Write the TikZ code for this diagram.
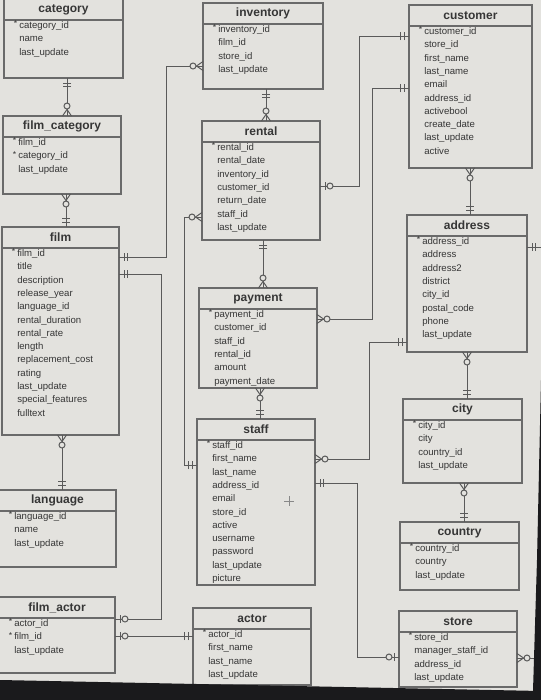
\documentclass[tikz,border=0pt]{standalone}
\usepackage{fontspec}
\setmainfont{Liberation Sans}
\usetikzlibrary{calc}

\definecolor{bg}{HTML}{E3E2DE}
\definecolor{boxline}{HTML}{6A6A6A}
\definecolor{ink}{HTML}{363636}
\definecolor{wire}{HTML}{5A5A5A}
\definecolor{bezel}{HTML}{1A1A1C}

\tikzset{
  entbox/.style={draw=boxline, line width=0.95pt, anchor=north west, inner sep=0pt, outer sep=0pt},
  enttitle/.style={inner sep=0pt, text=ink, font=\bfseries\fontsize{9}{10}\selectfont},
  entattr/.style={inner sep=0pt, anchor=base west, text=ink, font=\fontsize{7.2}{9}\selectfont},
  rel/.style={draw=wire, line width=0.75pt},
  mone/.pic={\draw[rel] (5,-4) -- (5,4) (8.5,-4) -- (8.5,4);},
  zmany/.pic={\draw[rel] (0,-4.5) -- (6.5,0) -- (0,4.5);
    \draw[rel, fill=bg] (10,0) circle[radius=3];},
  zone/.pic={\draw[rel] (5,-4) -- (5,4);
    \draw[rel, fill=bg] (10,0) circle[radius=3];}
}

% primary key marker
\newcommand{\pk}[1]{\llap{\raisebox{0.35ex}{\fontsize{6.5}{6.5}\selectfont *}\hspace{1.6pt}}#1}
% entity: name, x, y, width, height, title, attributes
\newcommand{\entity}[7]{%
  \node[entbox, minimum width=#4*0.75pt, minimum height=#5*0.75pt] (#1) at (#2,#3) {};
  \draw[boxline, line width=0.95pt] ($(#1.north west)+(0,21)$) -- ($(#1.north east)+(0,21)$);
  \node[enttitle] (#1-t) at ($(#1.north west)!0.5!(#1.north east)+(0,10.5)$) {#6};
  \foreach \attr [count=\row] in {#7}
    \node[entattr] (#1-\row) at ($(#1.north west)+(15,{29.5+(\row-1)*13.3})$) {\attr};
}

\begin{document}
\begin{tikzpicture}[x=0.75pt, y=-0.75pt]
\useasboundingbox (0,0) rectangle (541,700);
\fill[bg] (0,0) rectangle (541,700);

% left column
\entity{category}{4}{-1}{119}{79}{category}{\pk{category\_id},name,last\_update}
\entity{fcat}{3}{116}{118}{78}{film\_category}{\pk{film\_id},\pk{category\_id},last\_update}
\entity{film}{2}{227}{117}{208}{film}{\pk{film\_id},title,description,release\_year,language\_id,rental\_duration,rental\_rate,length,replacement\_cost,rating,last\_update,special\_features,fulltext}
\entity{language}{-1}{490}{117}{77}{language}{\pk{language\_id},name,last\_update}
\entity{factor}{-1}{597}{116}{76}{film\_actor}{\pk{actor\_id},\pk{film\_id},last\_update}

% middle column
\entity{inventory}{203}{3}{120}{86}{inventory}{\pk{inventory\_id},film\_id,store\_id,last\_update}
\entity{rental}{202}{121}{118}{119}{rental}{\pk{rental\_id},rental\_date,inventory\_id,customer\_id,return\_date,staff\_id,last\_update}
\entity{payment}{199}{288}{118}{100}{payment}{\pk{payment\_id},customer\_id,staff\_id,rental\_id,amount,payment\_date}
\entity{staff}{197}{419}{118}{166}{staff}{\pk{staff\_id},first\_name,last\_name,address\_id,email,store\_id,active,username,password,last\_update,picture}
\entity{actor}{193}{608}{118}{77}{actor}{\pk{actor\_id},first\_name,last\_name,last\_update}

% right column
\entity{customer}{409}{5}{123}{163}{customer}{\pk{customer\_id},store\_id,first\_name,last\_name,email,address\_id,activebool,create\_date,last\_update,active}
\entity{address}{407}{215}{120}{137}{address}{\pk{address\_id},address,address2,district,city\_id,postal\_code,phone,last\_update}
\entity{city}{403}{399}{119}{84}{city}{\pk{city\_id},city,country\_id,last\_update}
\entity{country}{400}{522}{119}{68}{country}{\pk{country\_id},country,last\_update}
\entity{store}{399}{611}{118}{76}{store}{\pk{store\_id},manager\_staff\_id,address\_id,last\_update}

% cursor
\draw[boxline!80, line width=0.4pt] (284,501) -- (294,501) (289,496) -- (289,506);

% vertical links
\draw[rel] (category.south -| 67,0) -- (fcat.north -| 67,0);
\pic[rotate=-90] at (category.south -| 67,0) {mone};
\pic[rotate=90] at (fcat.north -| 67,0) {zmany};
\draw[rel] (fcat.south -| 66,0) -- (film.north -| 66,0);
\pic[rotate=-90] at (fcat.south -| 66,0) {zmany};
\pic[rotate=90] at (film.north -| 66,0) {mone};
\draw[rel] (film.south -| 62,0) -- (language.north -| 62,0);
\pic[rotate=-90] at (film.south -| 62,0) {zmany};
\pic[rotate=90] at (language.north -| 62,0) {mone};
\draw[rel] (inventory.south -| 266,0) -- (rental.north -| 266,0);
\pic[rotate=-90] at (inventory.south -| 266,0) {mone};
\pic[rotate=90] at (rental.north -| 266,0) {zmany};
\draw[rel] (rental.south -| 263,0) -- (payment.north -| 263,0);
\pic[rotate=-90] at (rental.south -| 263,0) {mone};
\pic[rotate=90] at (payment.north -| 263,0) {zmany};
\draw[rel] (payment.south -| 260,0) -- (staff.north -| 260,0);
\pic[rotate=-90] at (payment.south -| 260,0) {zmany};
\pic[rotate=90] at (staff.north -| 260,0) {mone};
\draw[rel] (customer.south -| 470,0) -- (address.north -| 470,0);
\pic[rotate=-90] at (customer.south -| 470,0) {zmany};
\pic[rotate=90] at (address.north -| 470,0) {mone};
\draw[rel] (address.south -| 467,0) -- (city.north -| 467,0);
\pic[rotate=-90] at (address.south -| 467,0) {zmany};
\pic[rotate=90] at (city.north -| 467,0) {mone};
\draw[rel] (city.south -| 464,0) -- (country.north -| 464,0);
\pic[rotate=-90] at (city.south -| 464,0) {zmany};
\pic[rotate=90] at (country.north -| 464,0) {mone};

% bent links
\draw[rel] (film.east |- 0,257) -| (166,66) -- (inventory.west |- 0,66);
\pic at (film.east |- 0,257) {mone};
\pic[rotate=180] at (inventory.west |- 0,66) {zmany};
\draw[rel] (film.east |- 0,274) -| (161,619) -- (factor.east |- 0,619);
\pic at (film.east |- 0,274) {mone};
\pic at (factor.east |- 0,619) {zone};
\draw[rel] (factor.east |- 0,636) -- (actor.west |- 0,636);
\pic at (factor.east |- 0,636) {zone};
\pic[rotate=180] at (actor.west |- 0,636) {mone};
\draw[rel] (rental.west |- 0,217) -| (184,465) -- (staff.west |- 0,465);
\pic[rotate=180] at (rental.west |- 0,217) {zmany};
\pic[rotate=180] at (staff.west |- 0,465) {mone};
\draw[rel] (rental.east |- 0,186) -| (359,36) -- (customer.west |- 0,36);
\pic at (rental.east |- 0,186) {zone};
\pic[rotate=180] at (customer.west |- 0,36) {mone};
\draw[rel] (payment.east |- 0,319) -| (372,88) -- (customer.west |- 0,88);
\pic at (payment.east |- 0,319) {zmany};
\pic[rotate=180] at (customer.west |- 0,88) {mone};
\draw[rel] (staff.east |- 0,459) -| (369,342) -- (address.west |- 0,342);
\pic at (staff.east |- 0,459) {zmany};
\pic[rotate=180] at (address.west |- 0,342) {mone};
\draw[rel] (staff.east |- 0,483) -| (357,657) -- (store.west |- 0,657);
\pic at (staff.east |- 0,483) {mone};
\pic[rotate=180] at (store.west |- 0,657) {zone};

% links leaving the screen
\coordinate (offA) at (545,247);
\coordinate (offS) at (545,658);
\draw[rel] (address.east |- offA) -- (offA);
\pic at (address.east |- offA) {mone};
\draw[rel] (store.east |- offS) -- (offS);
\pic at (store.east |- offS) {zmany};

% screen bezel
\fill[bezel] (0,680) -- (541,691) -- (541,700) -- (0,700) -- cycle;
\fill[bezel] (541,380) -- (537,560) -- (533,691) -- (541,691) -- cycle;
\end{tikzpicture}
\end{document}
